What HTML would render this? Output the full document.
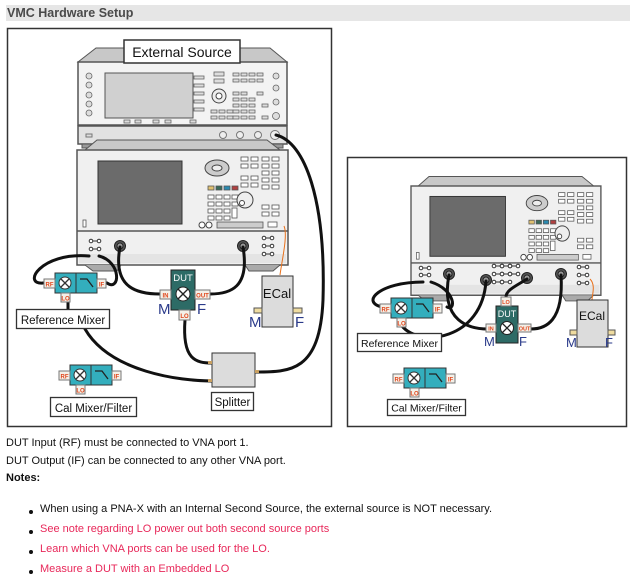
<!DOCTYPE html>
<html><head><meta charset="utf-8"><style>
html,body{margin:0;padding:0;background:#fff;}
body{width:630px;height:582px;position:relative;overflow:hidden;font-family:"Liberation Sans",Arial,sans-serif;}
.t{position:absolute;left:6px;font-size:11px;color:#111;white-space:nowrap;}
.b{position:absolute;left:40px;font-size:11px;white-space:nowrap;}
.dot{position:absolute;left:29px;width:4px;height:4px;border-radius:2px;background:#111;}
</style></head><body>
<div style="position:absolute;left:6px;top:5px;width:624px;height:16px;background:#e6e6e6;"></div>
<div style="position:absolute;left:7px;top:5px;font-size:12.5px;font-weight:bold;color:#4a4a4a;line-height:16px;">VMC Hardware Setup</div>

<svg width="630" height="430" style="position:absolute;left:0;top:0" font-family="Liberation Sans, Arial, sans-serif">
<defs>
<g id="vna">
  <path d="M8,0 L20,-10 L190,-10 L203,0 Z" fill="#c8c8c8" stroke="#555"/>
  <rect x="0" y="0" width="211" height="115" fill="#f0f0f0" stroke="#555" stroke-width="1.5"/>
  <rect x="21" y="11" width="84" height="63" fill="#6b6b6b" stroke="#333"/>
  <ellipse cx="140" cy="18" rx="12" ry="8" fill="#ccc" stroke="#444"/>
  <ellipse cx="140" cy="18" rx="5" ry="3" fill="#eee" stroke="#444"/>
  <g fill="#fff" stroke="#555" stroke-width=".8">
    <rect x="164" y="7" width="7" height="4"/><rect x="174" y="7" width="7" height="4"/><rect x="185" y="7" width="7" height="4"/><rect x="195" y="7" width="7" height="4"/>
    <rect x="164" y="14" width="7" height="4"/><rect x="174" y="14" width="7" height="4"/><rect x="185" y="14" width="7" height="4"/><rect x="195" y="14" width="7" height="4"/>
    <rect x="185" y="21" width="7" height="4"/><rect x="195" y="21" width="7" height="4"/>
    <rect x="164" y="26" width="7" height="4"/><rect x="174" y="26" width="7" height="4"/><rect x="185" y="28" width="7" height="4"/><rect x="195" y="28" width="7" height="4"/>
    <rect x="164" y="33" width="7" height="4"/><rect x="174" y="33" width="7" height="4"/><rect x="185" y="35" width="7" height="4"/><rect x="195" y="35" width="7" height="4"/>
    <rect x="131" y="45" width="6" height="4"/><rect x="139" y="45" width="6" height="4"/><rect x="147" y="45" width="6" height="4"/><rect x="155" y="45" width="6" height="4"/>
    <rect x="131" y="52" width="6" height="4"/><rect x="139" y="52" width="6" height="4"/><rect x="147" y="52" width="6" height="4"/><rect x="155" y="52" width="6" height="4"/>
    <rect x="131" y="59" width="6" height="4"/><rect x="139" y="59" width="6" height="4"/><rect x="147" y="59" width="6" height="4"/><rect x="155" y="58" width="5" height="10"/>
    <rect x="131" y="66" width="6" height="4"/><rect x="139" y="66" width="6" height="4"/><rect x="147" y="66" width="6" height="4"/>
    <rect x="185" y="55" width="7" height="4"/><rect x="195" y="55" width="7" height="4"/><rect x="185" y="62" width="7" height="4"/><rect x="195" y="62" width="7" height="4"/>
    <rect x="140" y="72" width="46" height="6" fill="#ccc"/><rect x="191" y="72" width="9" height="5"/>
    <rect x="6" y="70" width="3" height="7"/>
  </g>
  <g stroke="#555" stroke-width=".8">
    <rect x="131" y="36" width="6" height="4" fill="#e0c070"/><rect x="139" y="36" width="6" height="4" fill="#3a6a5a"/><rect x="147" y="36" width="6" height="4" fill="#2a8ab0"/><rect x="155" y="36" width="6" height="4" fill="#b04040"/>
  </g>
  <circle cx="168" cy="50" r="8" fill="#eee" stroke="#444"/><circle cx="165" cy="53" r="2.5" fill="#fff" stroke="#444"/>
  <circle cx="125" cy="75" r="3" fill="#fff" stroke="#444"/><circle cx="132" cy="75" r="3" fill="#fff" stroke="#444"/>
  <line x1="0" y1="81" x2="211" y2="81" stroke="#555" stroke-width="1.5"/>
  <rect x="2" y="104" width="207" height="9" fill="#e4e4e4" stroke="none"/>
  <path d="M8,115 L16,121 L40,121 L44,115 M168,115 L172,121 L196,121 L203,115" fill="#aaa" stroke="#555"/>
</g>
<g id="oo"><circle cx="0" cy="0" r="1.8" fill="#fff" stroke="#333"/><circle cx="8" cy="0" r="1.8" fill="#fff" stroke="#333"/><line x1="2" y1="0" x2="6" y2="0" stroke="#333"/></g>
<g id="port"><circle r="5.5" fill="#555" stroke="#222"/><circle r="3" fill="#999" stroke="#222"/></g>
<g id="mixer">
  <rect x="0" y="0" width="42" height="20" fill="#33aebd" stroke="#333"/>
  <line x1="21" y1="0" x2="21" y2="20" stroke="#333"/>
  <circle cx="10" cy="10" r="6" fill="#fff" stroke="#333"/>
  <path d="M6,6 L14,14 M14,6 L6,14" stroke="#333" stroke-width="1.3"/>
  <path d="M25,6 L32,6 L38,14" fill="none" stroke="#222" stroke-width="1.3"/>
  <rect x="-11" y="6" width="11" height="9" fill="#f4f0e8" stroke="#777"/>
  <text x="-5.5" y="13.3" font-size="6" font-weight="bold" fill="#e0451a" text-anchor="middle">RF</text>
  <rect x="42" y="6" width="9" height="9" fill="#f4f0e8" stroke="#777"/>
  <text x="46.5" y="13.3" font-size="6" font-weight="bold" fill="#e0451a" text-anchor="middle">IF</text>
  <rect x="6" y="20" width="9" height="9" fill="#f4f0e8" stroke="#777"/>
  <text x="10.5" y="27.3" font-size="6" font-weight="bold" fill="#e0451a" text-anchor="middle">LO</text>
</g>
</defs>

<rect x="7.5" y="28.5" width="324" height="398" fill="#fff" stroke="#333" stroke-width="1.5"/>
<rect x="347.5" y="157.5" width="279" height="269" fill="#fff" stroke="#333" stroke-width="1.5"/>

<path d="M78,62 L96,48 L270,48 L287,62 Z" fill="#c8c8c8" stroke="#555"/>
<rect x="78" y="62" width="209" height="63" fill="#f3f3f3" stroke="#555" stroke-width="1.5"/>
<rect x="105" y="73" width="88" height="45" fill="#d0d0d0" stroke="#555"/>
<g fill="#ddd" stroke="#666" stroke-width=".8">
  <circle cx="89" cy="76" r="3"/><circle cx="89" cy="85" r="3"/><circle cx="89" cy="95" r="3"/><circle cx="89" cy="104" r="3"/><circle cx="89" cy="113" r="3"/>
  <circle cx="276" cy="76" r="3"/><circle cx="276" cy="88" r="3"/><circle cx="276" cy="102" r="3"/><circle cx="276" cy="116" r="3.5"/>
  <rect x="214" y="72" width="10" height="4"/><rect x="214" y="79" width="10" height="4"/>
  <rect x="233" y="73" width="6" height="3"/><rect x="241" y="73" width="6" height="3"/><rect x="249" y="73" width="6" height="3"/><rect x="257" y="73" width="6" height="3"/>
  <rect x="233" y="79" width="6" height="3"/><rect x="241" y="79" width="6" height="3"/><rect x="249" y="79" width="6" height="3"/><rect x="257" y="79" width="6" height="3"/>
  <rect x="233" y="92" width="6" height="3"/><rect x="241" y="92" width="6" height="3"/><rect x="257" y="92" width="6" height="3"/>
  <rect x="233" y="98" width="6" height="3"/><rect x="241" y="98" width="6" height="3"/><rect x="249" y="98" width="6" height="3"/>
  <rect x="233" y="104" width="6" height="3"/><rect x="241" y="104" width="6" height="3"/><rect x="249" y="104" width="6" height="3"/><rect x="262" y="104" width="6" height="3"/>
  <rect x="211" y="110" width="6" height="3"/><rect x="219" y="110" width="6" height="3"/><rect x="227" y="110" width="6" height="3"/><rect x="233" y="110" width="6" height="3"/><rect x="241" y="110" width="6" height="3"/><rect x="249" y="110" width="6" height="3"/>
  <rect x="211" y="116" width="6" height="3"/><rect x="219" y="116" width="6" height="3"/><rect x="227" y="116" width="6" height="3"/><rect x="233" y="116" width="6" height="3"/><rect x="241" y="116" width="6" height="3"/><rect x="249" y="116" width="6" height="3"/><rect x="262" y="116" width="6" height="3"/>
  <rect x="124" y="120" width="6" height="3"/><rect x="135" y="120" width="6" height="3"/><rect x="153" y="120" width="6" height="3"/><rect x="165" y="120" width="6" height="3"/><rect x="190" y="120" width="6" height="3"/>
  <rect x="194" y="76" width="10" height="3"/><rect x="194" y="84" width="10" height="3"/><rect x="194" y="92" width="10" height="3"/><rect x="194" y="100" width="10" height="3"/><rect x="194" y="108" width="10" height="3"/>
</g>
<circle cx="219" cy="96" r="7" fill="#eee" stroke="#444"/><circle cx="219" cy="96" r="3" fill="#fff" stroke="#444"/>
<rect x="78" y="126" width="209" height="18" fill="#e2e2e2" stroke="#555" stroke-width="1.5"/>
<rect x="86" y="134" width="6" height="3" fill="#ddd" stroke="#777"/>
<g fill="#eee" stroke="#777"><circle cx="223" cy="135" r="3.5"/><circle cx="240" cy="135" r="3.5"/><circle cx="258" cy="135" r="3.5"/><circle cx="275" cy="135" r="4.5"/></g>
<rect x="82" y="144" width="201" height="4" fill="#999" stroke="#555"/>
<rect x="124" y="40" width="116" height="23" fill="#fff" stroke="#333" stroke-width="1.5"/>
<text x="182" y="57" font-size="14" text-anchor="middle" fill="#111">External Source</text>

<use href="#vna" x="77" y="150"/>
<g transform="translate(91,241)"><use href="#oo"/><use href="#oo" y="8"/></g>
<g transform="translate(264,238)"><use href="#oo"/><use href="#oo" y="8"/><use href="#oo" y="16"/></g>
<use href="#port" x="120" y="246"/><use href="#port" x="243" y="246"/>

<g transform="translate(411,186) scale(0.9,0.95)"><use href="#vna"/></g>
<g transform="translate(421,268)"><use href="#oo"/><use href="#oo" y="7"/></g>
<g transform="translate(579,267)"><use href="#oo"/><use href="#oo" y="8"/><use href="#oo" y="16"/></g>
<g transform="translate(494,266)"><use href="#oo"/><use href="#oo" x="8"/><use href="#oo" x="16"/><use href="#oo" y="8"/><use href="#oo" x="8" y="8"/><use href="#oo" x="16" y="8"/><use href="#oo" y="16"/><use href="#oo" x="8" y="16"/></g>
<use href="#port" x="449" y="274"/><use href="#port" x="486" y="280"/><use href="#port" x="527" y="278"/><use href="#port" x="561" y="274"/>

<g fill="none" stroke="#111" stroke-width="3" stroke-linecap="round">
  <path d="M276,135 C305,142 326,200 323,300 C320,372 290,372 256,372"/>
  <path d="M89,256 C40,252 22,285 43,283"/>
  <path d="M99,256 C122,262 120,292 107,283"/>
  <path d="M85,329 C110,372 180,381 212,381"/>
  <path d="M120,247 C112,290 140,294 160,294"/>
  <path d="M243,247 C250,288 230,294 210,294"/>
  <path d="M185,320 C182,360 196,363 212,363"/>
  <path d="M68,302 L68,309"/>
</g>
<path d="M284,226 C288,235 282,260 280,275" fill="none" stroke="#e8701a" stroke-width="1"/>

<g fill="none" stroke="#111" stroke-width="3" stroke-linecap="round">
  <path d="M423,282 C380,282 360,302 382,307"/>
  <path d="M431,282 C456,290 456,312 447,307"/>
  <path d="M449,275 C440,322 470,329 488,329"/>
  <path d="M486,281 C482,340 420,348 402,326"/>
  <path d="M527,279 C516,286 506,290 506,297"/>
  <path d="M561,275 C564,322 545,329 531,329"/>
</g>
<path d="M590,279 C596,285 592,295 592,300" fill="none" stroke="#e8701a" stroke-width="1"/>

<use href="#mixer" x="55" y="273"/>
<rect x="16.5" y="309.5" width="93" height="19" fill="#fff" stroke="#333" stroke-width="1.3"/>
<text x="63" y="324" font-size="11.5" text-anchor="middle" fill="#111">Reference Mixer</text>

<rect x="171" y="270" width="24" height="40" fill="#2d6b66" stroke="#222"/>
<text x="183" y="281" font-size="9.5" fill="#fff" text-anchor="middle">DUT</text>
<circle cx="183" cy="294" r="7" fill="#fff" stroke="#222"/>
<path d="M178,289 L188,299 M188,289 L178,299" stroke="#222" stroke-width="1.4"/>
<rect x="160" y="290" width="11" height="9" fill="#f4f0e8" stroke="#777"/><text x="165.5" y="297.3" font-size="6" font-weight="bold" fill="#e0451a" text-anchor="middle">IN</text>
<rect x="195" y="290" width="15" height="9" fill="#f4f0e8" stroke="#777"/><text x="202.5" y="297.3" font-size="6" font-weight="bold" fill="#e0451a" text-anchor="middle">OUT</text>
<rect x="179" y="310" width="11" height="10" fill="#f4f0e8" stroke="#777"/><text x="184.5" y="318" font-size="6" font-weight="bold" fill="#e0451a" text-anchor="middle">LO</text>
<text x="158" y="314" font-size="15" fill="#2a3a8a">M</text>
<text x="197" y="314" font-size="15" fill="#2a3a8a">F</text>

<rect x="262" y="276" width="31" height="51" fill="#dcdcdc" stroke="#333"/>
<text x="277" y="298" font-size="13" text-anchor="middle" fill="#111">ECal</text>
<rect x="254" y="308" width="8" height="5" fill="#efdca0" stroke="#555"/>
<rect x="293" y="308" width="9" height="5" fill="#efdca0" stroke="#555"/>
<text x="249" y="327" font-size="15" fill="#2a3a8a">M</text>
<text x="295" y="327" font-size="15" fill="#2a3a8a">F</text>

<rect x="212" y="353" width="43" height="34" fill="#dcdcdc" stroke="#333"/>
<rect x="208" y="361" width="4" height="3" fill="#c9a060"/><rect x="208" y="379" width="4" height="3" fill="#c9a060"/><rect x="255" y="370" width="4" height="3" fill="#c9a060"/>
<rect x="211.5" y="392.5" width="42" height="18" fill="#fff" stroke="#333" stroke-width="1.3"/>
<text x="232.5" y="406" font-size="11.5" text-anchor="middle" fill="#111">Splitter</text>

<use href="#mixer" x="70" y="365"/>
<rect x="50.5" y="397.5" width="86" height="19" fill="#fff" stroke="#333" stroke-width="1.3"/>
<text x="93.5" y="412" font-size="11.5" text-anchor="middle" fill="#111">Cal Mixer/Filter</text>

<use href="#mixer" x="391" y="298"/>
<rect x="357.5" y="333.5" width="84" height="18" fill="#fff" stroke="#333" stroke-width="1.3"/>
<text x="399.5" y="347" font-size="10.5" text-anchor="middle" fill="#111">Reference Mixer</text>

<rect x="496" y="306" width="22" height="37" fill="#2d6b66" stroke="#222"/>
<text x="507" y="317" font-size="9" fill="#fff" text-anchor="middle">DUT</text>
<circle cx="507" cy="328" r="6.5" fill="#fff" stroke="#222"/>
<path d="M502.5,323.5 L511.5,332.5 M511.5,323.5 L502.5,332.5" stroke="#222" stroke-width="1.3"/>
<rect x="486" y="324" width="10" height="8" fill="#f4f0e8" stroke="#777"/><text x="491" y="330.5" font-size="5.5" font-weight="bold" fill="#e0451a" text-anchor="middle">IN</text>
<rect x="518" y="324" width="13" height="8" fill="#f4f0e8" stroke="#777"/><text x="524.5" y="330.5" font-size="5.5" font-weight="bold" fill="#e0451a" text-anchor="middle">OUT</text>
<rect x="501" y="297" width="10" height="9" fill="#f4f0e8" stroke="#777"/><text x="506" y="304" font-size="5.5" font-weight="bold" fill="#e0451a" text-anchor="middle">LO</text>
<text x="484" y="346" font-size="13" fill="#2a3a8a">M</text>
<text x="519" y="346" font-size="13" fill="#2a3a8a">F</text>

<rect x="577" y="300" width="31" height="47" fill="#dcdcdc" stroke="#333"/>
<text x="592" y="320" font-size="12" text-anchor="middle" fill="#111">ECal</text>
<rect x="570" y="330" width="7" height="5" fill="#efdca0" stroke="#555"/>
<rect x="608" y="330" width="7" height="5" fill="#efdca0" stroke="#555"/>
<text x="566" y="347" font-size="13" fill="#2a3a8a">M</text>
<text x="605" y="347" font-size="13" fill="#2a3a8a">F</text>

<use href="#mixer" x="404" y="368"/>
<rect x="387.5" y="399.5" width="78" height="16" fill="#fff" stroke="#333" stroke-width="1.3"/>
<text x="426.5" y="411.5" font-size="10.5" text-anchor="middle" fill="#111">Cal Mixer/Filter</text>
</svg>

<div class="t" style="top:437px;">DUT Input (RF) must be connected to VNA port 1.</div>
<div class="t" style="top:455px;">DUT Output (IF) can be connected to any other VNA port.</div>
<div class="t" style="top:472px;font-weight:bold;">Notes:</div>
<div class="dot" style="top:510px;"></div>
<div class="b" style="top:503px;color:#111;">When using a PNA-X with an Internal Second Source, the external source is NOT necessary.</div>
<div class="dot" style="top:530px;"></div>
<div class="b" style="top:523px;color:#e8285a;">See note regarding LO power out both second source ports</div>
<div class="dot" style="top:550px;"></div>
<div class="b" style="top:543px;color:#e8285a;">Learn which VNA ports can be used for the LO.</div>
<div class="dot" style="top:570px;"></div>
<div class="b" style="top:563px;color:#e8285a;">Measure a DUT with an Embedded LO</div>
</body></html>
